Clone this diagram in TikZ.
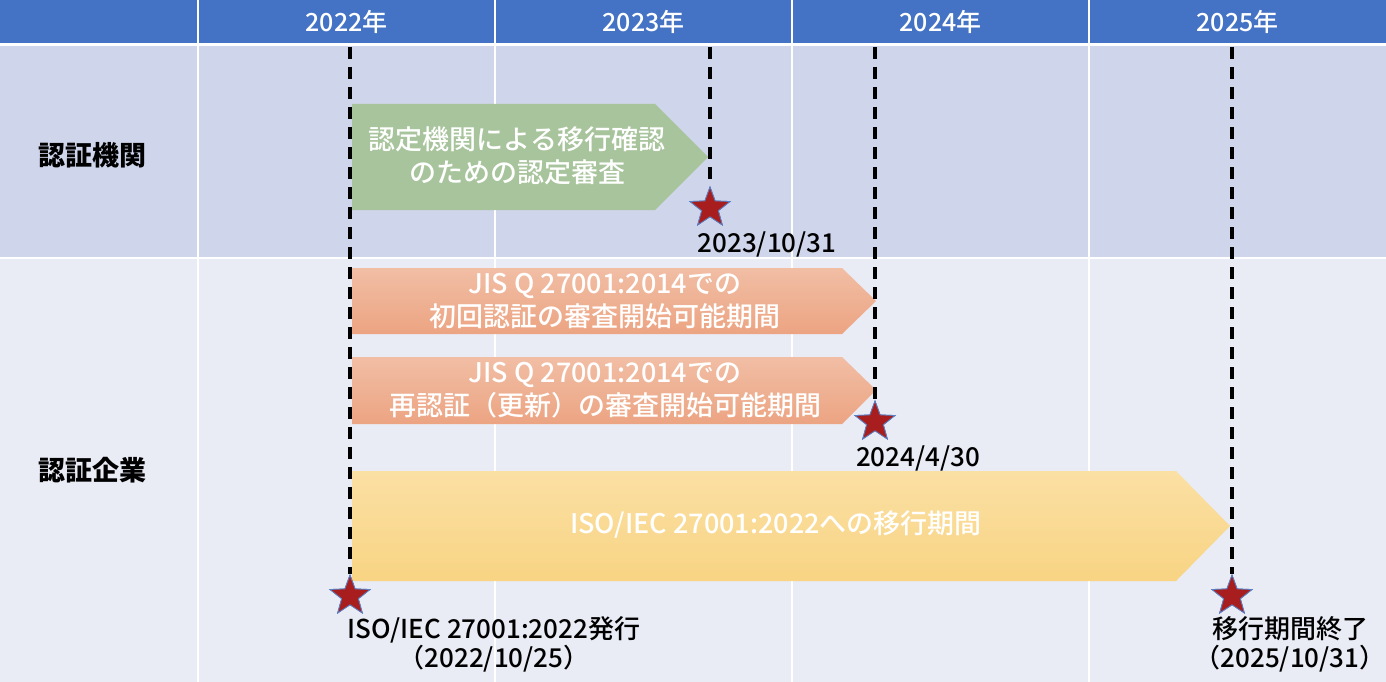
\documentclass[tikz,border=0pt]{standalone}
\usepackage{fontspec}
\setmainfont{Noto Sans CJK JP}
\newfontfamily\jpmed{Noto Sans CJK JP Medium}
\usetikzlibrary{shapes.geometric,positioning}
\definecolor{hdrblue}{HTML}{4472C4}
\definecolor{rowone}{HTML}{CFD5EA}
\definecolor{rowtwo}{HTML}{E9EBF5}
\definecolor{greenbar}{HTML}{A8C49C}
\definecolor{orangetop}{HTML}{F1BEA5}
\definecolor{orangebot}{HTML}{ECA482}
\definecolor{yellowtop}{HTML}{FBE0A4}
\definecolor{yellowbot}{HTML}{F8D483}
\definecolor{starred}{HTML}{A81E1E}
\definecolor{starblue}{HTML}{5B7FC2}
\begin{document}
\begin{tikzpicture}[x=1pt,y=-1pt,
    yeartxt/.style={text=white,font=\fontsize{25}{28}\jpmed},
    rowtxt/.style={font=\fontsize{27}{30}\selectfont\bfseries},
    bartxt/.style={text=white,align=center,font=\fontsize{27}{33}\jpmed},
    datetxt/.style={align=center,inner sep=1pt,font=\fontsize{26}{29}\jpmed},
    mstar/.style={star,star points=5,star point ratio=2.4,fill=starred,draw=starblue,line width=0.8pt,minimum size=42pt,inner sep=0pt},
    deadline/.style={line width=3.5pt,dash pattern=on 12pt off 8pt}]
    \useasboundingbox (0,0) rectangle (1386,682);

    % background of the table
    \fill[hdrblue] (0,0) rectangle (1386,45);
    \fill[rowone] (0,45) rectangle (1386,258);
    \fill[rowtwo] (0,258) rectangle (1386,682);
    \foreach \x in {198,495,792,1089} {
        \draw[white,line width=1.5pt] (\x,0) -- (\x,682);
    }
    \draw[white,line width=3pt] (0,45) -- (1386,45);
    \draw[white,line width=2pt] (0,258) -- (1386,258);

    \foreach \yr [count=\i] in {2022,2023,2024,2025} {
        \node[yeartxt] (y\yr) at (49.5+297*\i, 22) {\yr 年};
    }
    \node[rowtxt] (body) at (92,155) {認証機関};
    \node[rowtxt] (firm) at (92,470) {認証企業};

    % bars
    \fill[greenbar] (352,104) -- (655,104) -- (708,157) -- (655,210) -- (352,210) -- cycle;
    \shade[top color=orangetop,bottom color=orangebot] (352,268) -- (842,268) -- (876,301) -- (842,334) -- (352,334) -- cycle;
    \shade[top color=orangetop,bottom color=orangebot] (352,357) -- (842,357) -- (876,390) -- (842,424) -- (352,424) -- cycle;
    \shade[top color=yellowtop,bottom color=yellowbot] (352,471) -- (1176,471) -- (1230,526) -- (1176,581) -- (352,581) -- cycle;

    \node[bartxt] (check) at (517,156) {認定機関による移行確認\\のための認定審査};
    \node[bartxt] (first) at (605,301) {JIS Q 27001:2014での\\初回認証の審査開始可能期間};
    \node[bartxt] (renew) at (605,390) {JIS Q 27001:2014での\\再認証（更新）の審査開始可能期間};
    \node[bartxt] (trans) at (776,525) {ISO/IEC 27001:2022への移行期間};

    % deadlines
    \node[mstar] (s1) at (710,208) {};
    \node[mstar] (s2) at (875,422) {};
    \node[mstar] (s0) at (350,596) {};
    \node[mstar] (s3) at (1232,596) {};
    \coordinate (t1) at (710,47);
    \coordinate (t2) at (875,47);
    \coordinate (t0) at (350,47);
    \coordinate (t3) at (1232,47);
    \draw[deadline] (t0) -- (s0.north);
    \draw[deadline] (t1) -- (s1.north);
    \draw[deadline] (t2) -- (s2.north);
    \draw[deadline] (t3) -- (s3.north);
    \node[mstar] at (s0) {};
    \node[mstar] at (s1) {};
    \node[mstar] at (s2) {};
    \node[mstar] at (s3) {};

    \node[datetxt] (d1) at (767,244) {2023/10/31};
    \node[datetxt] (d2) at (918,458) {2024/4/30};
    \node[datetxt] (d0) at (494,644) {ISO/IEC 27001:2022発行\\（2022/10/25）};
    \node[datetxt] (d3) at (1290,644) {移行期間終了\\（2025/10/31）};
\end{tikzpicture}
\end{document}
